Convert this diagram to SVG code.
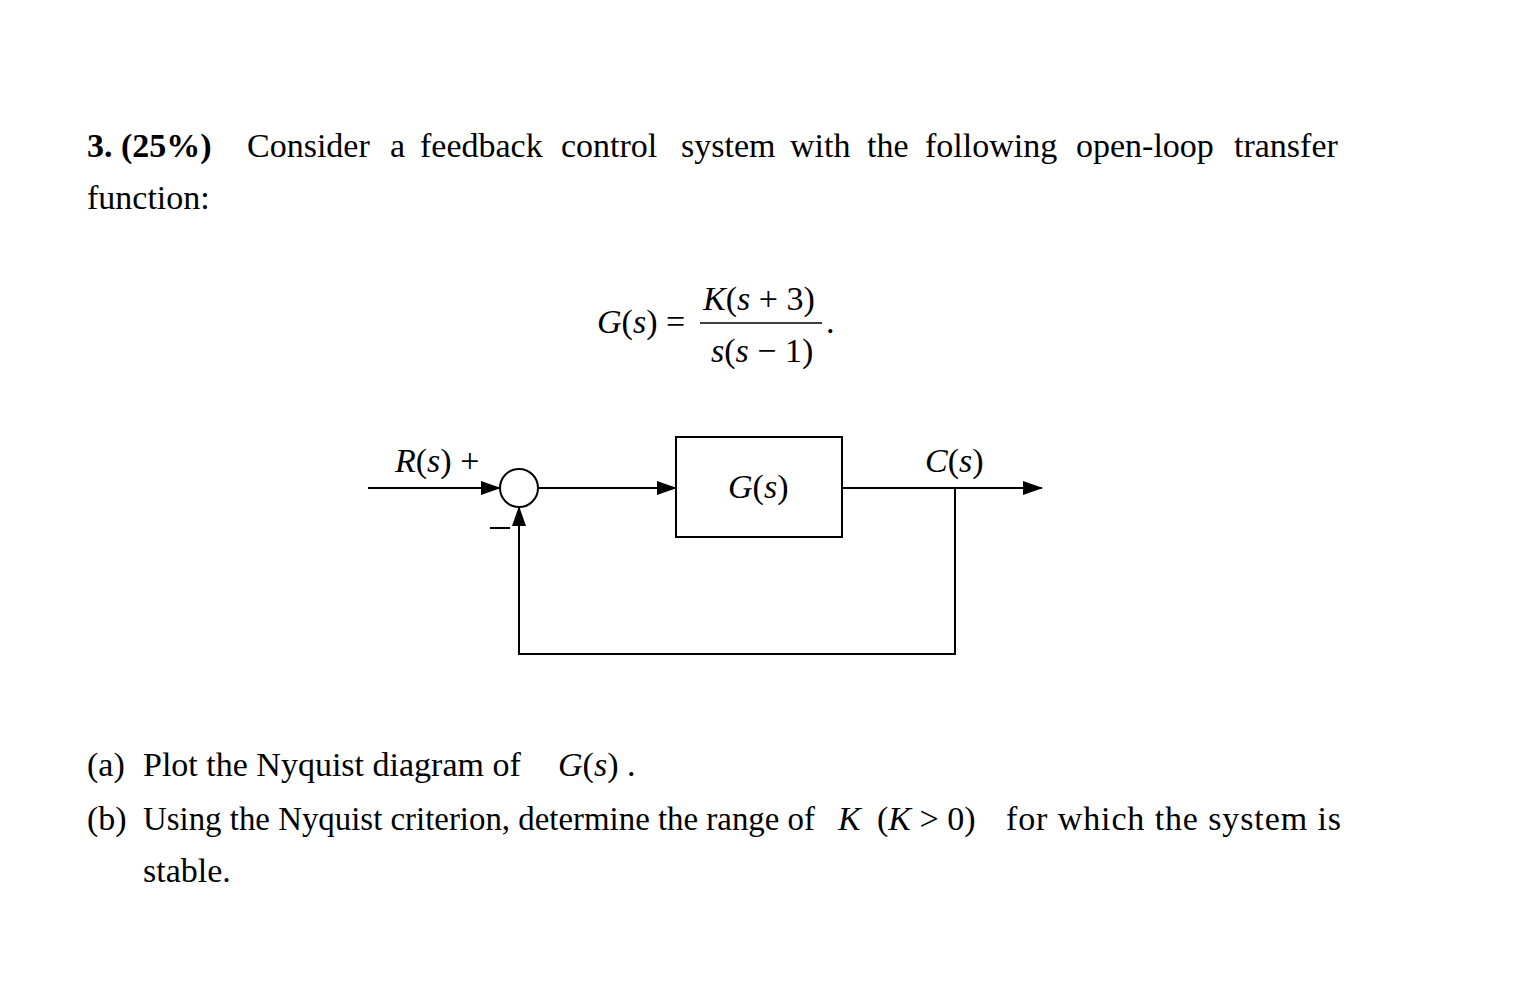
<svg xmlns="http://www.w3.org/2000/svg" width="1534" height="999" viewBox="0 0 1534 999">
<style>
text{font-family:"Liberation Serif","Times New Roman",serif;font-size:34px;fill:#000}
.i{font-style:italic}
.ln{stroke:#000;stroke-width:2;fill:none}
</style>
<defs><marker id="ah" markerWidth="10" markerHeight="10" refX="9" refY="5" orient="auto" markerUnits="userSpaceOnUse"><path d="M0,0L10,5L0,10z" fill="#000"/></marker>
<marker id="ah2" markerWidth="20" markerHeight="14" refX="19" refY="7" orient="auto" markerUnits="userSpaceOnUse"><path d="M0,0L20,7L0,14z" fill="#000"/></marker></defs>
<rect width="1534" height="999" fill="#fff"/>
<text y="157"><tspan x="87" font-weight="bold">3. (25%)</tspan><tspan x="247">Consider</tspan><tspan x="390">a</tspan><tspan x="420">feedback</tspan><tspan x="561">control</tspan><tspan x="681">system</tspan><tspan x="790">with</tspan><tspan x="867">the</tspan><tspan x="925">following</tspan><tspan x="1076">open-loop</tspan><tspan x="1234">transfer</tspan></text>
<text x="87" y="209">function:</text>
<g id="equation">
<text x="597" y="333"><tspan class="i">G</tspan>(<tspan class="i">s</tspan>) =</text>
<text x="703" y="310"><tspan class="i">K</tspan>(<tspan class="i">s</tspan> + 3)</text>
<line x1="700" y1="323" x2="822" y2="323" stroke="#000" stroke-width="1.5"/>
<text x="711" y="362"><tspan class="i">s</tspan>(<tspan class="i">s</tspan> − 1)</text>
<text x="826" y="333">.</text>
</g>
<g id="connectors">
<line class="ln" x1="368" y1="488" x2="500" y2="488" marker-end="url(#ah2)"/>
<line class="ln" x1="538" y1="488" x2="676" y2="488" marker-end="url(#ah2)"/>
<line class="ln" x1="842" y1="488" x2="1042" y2="488" marker-end="url(#ah2)"/>
<polyline class="ln" points="955,488 955,654 519,654 519,507" marker-end="url(#ah2)"/>
</g>
<g id="sum"><circle class="ln" cx="519" cy="488" r="19"/></g>
<g id="block"><rect class="ln" x="676" y="437" width="166" height="100"/>
<text x="728" y="498"><tspan class="i">G</tspan>(<tspan class="i">s</tspan>)</text></g>
<text x="395" y="472"><tspan class="i">R</tspan>(<tspan class="i">s</tspan>) +</text>
<line x1="490" y1="528" x2="510" y2="528" stroke="#000" stroke-width="2"/>
<text x="925" y="472"><tspan class="i">C</tspan>(<tspan class="i">s</tspan>)</text>
<text y="776"><tspan x="87">(a)</tspan><tspan x="143">Plot the Nyquist diagram of</tspan><tspan x="558" class="i">G</tspan>(<tspan class="i">s</tspan>) .</text>
<text y="830"><tspan x="87">(b)</tspan><tspan x="143" textLength="672" lengthAdjust="spacingAndGlyphs">Using the Nyquist criterion, determine the range of</tspan><tspan x="838" class="i">K</tspan><tspan x="877">(</tspan><tspan class="i">K</tspan> &gt; 0)<tspan x="1006" textLength="335" lengthAdjust="spacing">for which the system is</tspan></text>
<text x="143" y="882">stable.</text>
</svg>
